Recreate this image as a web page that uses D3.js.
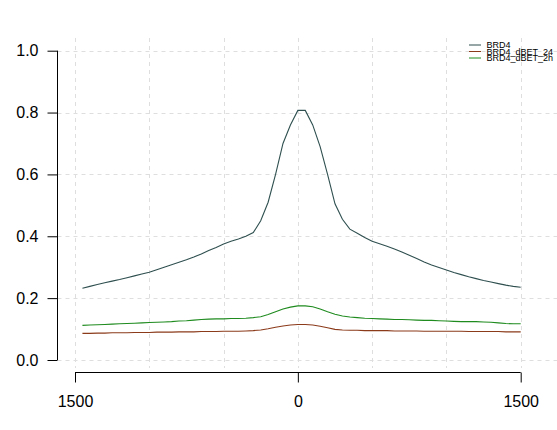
<!DOCTYPE html>
<html>
<head>
<meta charset="utf-8">
<script src="https://cdn.jsdelivr.net/npm/d3@7"></script>
<style>
  html, body { margin: 0; padding: 0; background: #fff; }
  svg { display: block; font-family: "Liberation Sans", Arial, sans-serif; }
</style>
</head>
<body>
<svg id="chart" width="557" height="430"></svg>
<script>
// ---- data ----
const positions = d3.range(-1450, 1501, 50); // bin centres (bp)
const seriesNames = ["BRD4", "BRD4_dBET_24", "BRD4_dBET_2h"];
const seriesColors = ["#2f4f4f", "#8b3a1a", "#1f8b1f"];
const brd4 = [
  0.232, 0.238, 0.244, 0.250, 0.255, 0.260, 0.266, 0.272, 0.278, 0.284,
  0.292, 0.300, 0.308, 0.316, 0.324, 0.333, 0.343, 0.354, 0.364, 0.375,
  0.384, 0.391, 0.400, 0.412, 0.450, 0.510, 0.600, 0.700, 0.760, 0.807,
  0.807, 0.760, 0.690, 0.600, 0.505, 0.455, 0.423, 0.410, 0.396, 0.384,
  0.376, 0.368, 0.359, 0.349, 0.339, 0.328, 0.317, 0.307, 0.299, 0.291,
  0.283, 0.276, 0.269, 0.263, 0.257, 0.252, 0.247, 0.242, 0.238, 0.235
];
const brd4_dbet24 = [
  0.086, 0.086, 0.087, 0.087, 0.088, 0.088, 0.088, 0.089, 0.089, 0.089,
  0.090, 0.090, 0.090, 0.091, 0.091, 0.091, 0.092, 0.092, 0.092, 0.093,
  0.093, 0.093, 0.094, 0.095, 0.097, 0.101, 0.106, 0.110, 0.113, 0.115,
  0.115, 0.113, 0.109, 0.104, 0.099, 0.097, 0.096, 0.096, 0.095, 0.095,
  0.095, 0.095, 0.094, 0.094, 0.094, 0.094, 0.093, 0.093, 0.093, 0.093,
  0.093, 0.093, 0.092, 0.092, 0.092, 0.092, 0.092, 0.091, 0.091, 0.091
];
const brd4_dbet2h = [
  0.112, 0.113, 0.114, 0.115, 0.116, 0.117, 0.118, 0.119, 0.120, 0.121,
  0.122, 0.123, 0.124, 0.126, 0.127, 0.129, 0.131, 0.132, 0.133, 0.133,
  0.134, 0.134, 0.135, 0.137, 0.140, 0.147, 0.156, 0.165, 0.171, 0.175,
  0.175, 0.172, 0.165, 0.156, 0.148, 0.142, 0.139, 0.137, 0.135, 0.134,
  0.133, 0.132, 0.131, 0.131, 0.130, 0.129, 0.128, 0.128, 0.127, 0.126,
  0.125, 0.124, 0.124, 0.124, 0.123, 0.122, 0.120, 0.118, 0.117, 0.117
];
const seriesValues = [brd4, brd4_dbet24, brd4_dbet2h];
const xTicks = [-1500, 0, 1500];
const xTickLabels = ["1500", "0", "1500"];
const xGrid = [-1500, -1000, -500, 0, 500, 1000, 1500];
const yTicks = [0, 0.2, 0.4, 0.6, 0.8, 1.0];

// ---- layout ----
const svg = d3.select("#chart");
const x = d3.scaleLinear().domain([-1500, 1500]).range([75, 520.7]);
const y = d3.scaleLinear().domain([0, 1]).range([360, 50.7]);
const plotLeft = 57.5, plotRight = 557, plotTop = 38, plotBottom = 368;

// grid
const grid = svg.append("g").attr("stroke", "#dedede").attr("stroke-width", 1)
  .attr("stroke-dasharray", "4,4").attr("fill", "none");
grid.selectAll("line.v").data(xGrid).join("line").attr("class", "v")
  .attr("x1", d => Math.round(x(d)) + 0.5).attr("x2", d => Math.round(x(d)) + 0.5)
  .attr("y1", plotTop).attr("y2", plotBottom);
grid.selectAll("line.h").data(yTicks).join("line").attr("class", "h")
  .attr("x1", plotLeft).attr("x2", plotRight)
  .attr("y1", d => Math.round(y(d)) + 0.5).attr("y2", d => Math.round(y(d)) + 0.5);

// lines
const line = d3.line().x((d, i) => x(positions[i])).y(d => y(d));
svg.append("g").selectAll("path").data(seriesValues).join("path")
  .attr("d", d => line(d))
  .attr("fill", "none")
  .attr("stroke", (d, i) => seriesColors[i])
  .attr("stroke-width", 1.1);

// y axis
const yAxis = svg.append("g").attr("transform", "translate(57.5,0)")
  .call(d3.axisLeft(y).tickValues(yTicks).tickFormat(d3.format(".1f"))
    .tickSize(10).tickPadding(9));
yAxis.select(".domain").attr("stroke", "#000").attr("d", `M0,${y(0)}V${y(1)}`);
yAxis.selectAll(".tick line").attr("stroke", "#000");
yAxis.selectAll(".tick text").attr("font-size", 16).attr("fill", "#000")
  .attr("font-family", "Liberation Sans, Arial, sans-serif");

// x axis
const xAxis = svg.append("g").attr("transform", "translate(0,372.5)")
  .call(d3.axisBottom(x).tickValues(xTicks).tickFormat((d, i) => xTickLabels[i])
    .tickSize(10).tickPadding(13));
xAxis.select(".domain").attr("stroke", "#000").attr("d", `M${x(-1500)},0H${x(1500)}`);
xAxis.selectAll(".tick line").attr("stroke", "#000");
xAxis.selectAll(".tick text").attr("font-size", 16).attr("fill", "#000")
  .attr("font-family", "Liberation Sans, Arial, sans-serif");

// legend
const legend = svg.append("g");
const legY = [45, 51.5, 58];
seriesNames.forEach((name, i) => {
  legend.append("line").attr("x1", 469).attr("x2", 481)
    .attr("y1", legY[i]).attr("y2", legY[i])
    .attr("stroke", seriesColors[i]).attr("stroke-width", 1);
  legend.append("text").attr("x", 486.5).attr("y", legY[i] + 3.2)
    .attr("font-size", 9).attr("fill", "#000").text(name);
});
</script>
</body>
</html>
